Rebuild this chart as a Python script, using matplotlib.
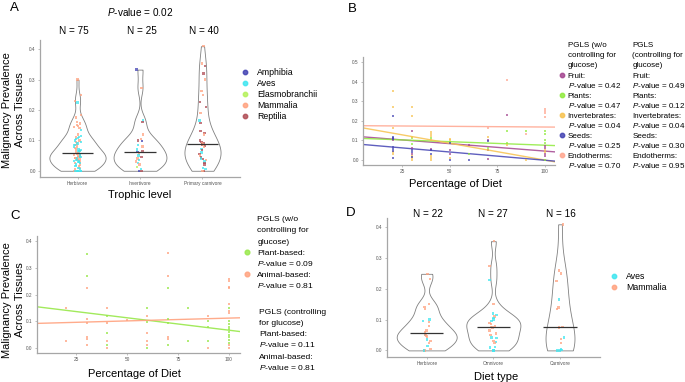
import numpy as np
import matplotlib
matplotlib.use("Agg")
import matplotlib.pyplot as plt
from matplotlib.lines import Line2D

plt.rcParams['font.family'] = ['Liberation Sans', 'DejaVu Sans']
plt.rcParams['mathtext.fontset'] = 'custom'
plt.rcParams['mathtext.rm'] = 'Liberation Sans'
plt.rcParams['mathtext.it'] = 'Liberation Sans:italic'

W, H = 685, 382

# ---------------- DATA ----------------
# Panel A: trophic level violins (value, class)
trophic_levels = ["Herbivore", "Invertivore", "Primary carnivore"]
trophic_n = ["N = 75", "N = 25", "N = 40"]
herb_vals = [0.30, 0.25, 0.23, 0.183, 0.175, 0.16, 0.155, 0.15, 0.148, 0.145, 0.14, 0.12, 0.11, 0.10,
             0.095, 0.09, 0.085, 0.08, 0.075, 0.07, 0.065, 0.062,
             0.225, 0.135, 0.115, 0.112, 0.108, 0.105, 0.10, 0.095, 0.09, 0.085, 0.07, 0.065, 0.06, 0.068, 0.078,
             0.058,
             0.055, 0.052, 0.05, 0.048, 0.045, 0.042, 0.04, 0.038, 0.035, 0.03, 0.025, 0.02, 0.015, 0.01, 0.005,
             0.047, 0.043, 0.0,
             0.055, 0.05, 0.045, 0.04, 0.035, 0.032, 0.03, 0.028, 0.025, 0.02, 0.015, 0.01, 0.005,
             0.0, 0.0, 0.0, 0.0, 0.0, 0.0]
herb_cls = (["Mammalia"] * 22 + ["Aves"] * 15 + ["Mammalia"] + ["Mammalia"] * 18 + ["Aves"] * 19)
inv_vals = [0.333, 0.273, 0.165, 0.16, 0.12, 0.105, 0.10, 0.098, 0.085, 0.08, 0.07, 0.065, 0.061,
            0.055, 0.05, 0.045, 0.04, 0.035, 0.03, 0.025, 0.02, 0.012, 0.005, 0.0, 0.0]
inv_cls = ["Amphibia", "Mammalia", "Aves", "Reptilia", "Mammalia", "Mammalia", "Reptilia", "Amphibia",
           "Aves", "Mammalia", "Aves", "Reptilia", "Amphibia",
           "Mammalia", "Aves", "Reptilia", "Mammalia", "Aves", "Mammalia", "Aves", "Mammalia",
           "Elasmobranchii", "Aves", "Amphibia", "Reptilia"]
carn_vals = [0.41, 0.353, 0.345, 0.32, 0.30, 0.262, 0.25, 0.227, 0.21, 0.19, 0.158, 0.165, 0.131, 0.125,
             0.12, 0.10, 0.095, 0.092, 0.09, 0.087, 0.087,
             0.082, 0.078, 0.072, 0.068, 0.06, 0.055, 0.05, 0.045, 0.042, 0.04, 0.038, 0.035, 0.03,
             0.025, 0.02, 0.01, 0.005, 0.0, 0.0]
carn_cls = ["Mammalia", "Mammalia", "Reptilia", "Reptilia", "Mammalia", "Mammalia", "Mammalia", "Reptilia",
            "Reptilia", "Mammalia", "Reptilia", "Aves", "Reptilia", "Reptilia", "Mammalia", "Reptilia",
            "Reptilia", "Mammalia", "Reptilia", "Reptilia", "Mammalia",
            "Reptilia", "Mammalia", "Aves", "Reptilia", "Aves", "Reptilia", "Mammalia", "Reptilia",
            "Reptilia", "Aves", "Reptilia", "Mammalia", "Aves", "Reptilia", "Reptilia", "Aves", "Aves",
            "Reptilia", "Mammalia"]

class_names = ["Amphibia", "Aves", "Elasmobranchii", "Mammalia", "Reptilia"]
class_colors = {"Amphibia": "#4343B3", "Aves": "#3EE6F0", "Elasmobranchii": "#B5F25A",
                "Mammalia": "#FFA27F", "Reptilia": "#B04C55"}

# Panel B: percentage of diet scatter + PGLS fits
fruit_x = [20, 30, 30, 30, 40, 50, 50, 60, 70, 70, 70, 80, 100, 100, 100, 100]
fruit_y = [0.10, 0.146, 0.06, 0.03, 0.055, 0.05, 0.03, 0.075, 0.10, 0.05, 0.005, 0.228, 0.07, 0.06, 0.03, 0.02]
plants_x = [30, 30, 40, 50, 60, 70, 80, 80, 90, 100, 100, 100, 100, 100]
plants_y = [0.11, 0.08, 0.11, 0.09, 0.03, 0.06, 0.146, 0.085, 0.146, 0.15, 0.135, 0.10, 0.085, 0.0]
invert_x = [20, 20, 20, 20, 20, 30, 30, 30, 30, 30, 30, 40, 40, 40, 40, 40, 40, 40, 50, 50, 50, 70, 70, 80,
            90, 100, 100]
invert_y = [0.35, 0.268, 0.164, 0.04, 0.03, 0.268, 0.225, 0.12, 0.02, 0.01, 0.0, 0.145, 0.135, 0.125, 0.10,
            0.02, 0.01, 0.0, 0.105, 0.10, 0.01, 0.12, 0.05, 0.075, 0.0, 0.05, 0.04]
seeds_x = [20, 20, 20, 20, 20, 20, 20, 20, 30, 30, 30, 40, 40, 50, 50, 60, 70]
seeds_y = [0.223, 0.12, 0.11, 0.105, 0.065, 0.055, 0.045, 0.01, 0.05, 0.04, 0.015, 0.05, 0.03, 0.085, 0.0,
           0.0, 0.095]
endo_x = [70, 80, 90, 100, 100, 100, 100]
endo_y = [0.165, 0.406, 0.135, 0.26, 0.25, 0.24, 0.22]
b_names = ["Fruit", "Plants", "Invertebrates", "Seeds", "Endotherms"]
b_colors = ["#A3448F", "#8FEA3C", "#F7C24E", "#4343B3", "#FFA58E"]
b_intercepts = [0.1218, 0.1118, 0.1716, 0.0832, 0.1754]
b_slopes = [-0.00076, -0.00036, -0.001716, -0.00084, -0.00007]
b_p_nog = ["0.42", "0.47", "0.04", "0.25", "0.70"]
b_p_glu = ["0.49", "0.12", "0.04", "0.30", "0.95"]

# Panel C: plant- vs animal-based
plant_x = [30, 30, 40, 40, 40, 60, 60, 60, 70, 70, 70, 70, 80, 80, 90, 90, 90,
           100, 100, 100, 100, 100, 100, 100, 100, 100, 100]
plant_y = [0.351, 0.27, 0.12, 0.055, 0.01, 0.15, 0.097, 0.0, 0.225, 0.11, 0.095, 0.01, 0.15, 0.025,
           0.10, 0.08, 0.025, 0.15, 0.10, 0.09, 0.08, 0.07, 0.06, 0.05, 0.04, 0.03, 0.02]
animal_x = [20, 20, 30, 30, 30, 30, 30, 30, 40, 40, 40, 40, 50, 60, 60, 60, 60, 70, 70, 70, 70, 90, 90,
            100, 100, 100, 100, 100, 100, 100, 100, 100]
animal_y = [0.149, 0.027, 0.226, 0.11, 0.095, 0.04, 0.035, 0.01, 0.15, 0.095, 0.028, 0.0, 0.105, 0.12,
            0.055, 0.028, 0.01, 0.355, 0.27, 0.04, 0.035, 0.12, 0.0, 0.26, 0.25, 0.23, 0.225, 0.165, 0.14,
            0.13, 0.01, 0.0]
c_colors = ["#98E84A", "#FFA27F"]
c_intercepts = [0.1597, 0.091]
c_slopes = [-0.00093, 0.00021]

# Panel D: diet type violins
diet_types = ["Herbivore", "Omnivore", "Carnivore"]
diet_n = ["N = 22", "N = 27", "N = 16"]
dh_vals = [0.249, 0.232, 0.15, 0.142, 0.135, 0.10, 0.095, 0.092, 0.08, 0.065, 0.058, 0.052,
           0.05, 0.048, 0.045, 0.035, 0.03, 0.025, 0.015, 0.005, 0.0, 0.0]
dh_cls = ["Mammalia", "Mammalia", "Mammalia", "Mammalia", "Mammalia", "Aves", "Aves", "Mammalia",
          "Mammalia", "Mammalia", "Mammalia", "Aves", "Mammalia", "Mammalia", "Mammalia", "Aves",
          "Mammalia", "Mammalia", "Aves", "Mammalia", "Mammalia", "Aves"]
do_vals = [0.355, 0.275, 0.228, 0.15, 0.12, 0.115, 0.11, 0.105, 0.10, 0.095, 0.09, 0.085, 0.08, 0.077,
           0.075, 0.065, 0.055, 0.05, 0.042, 0.04, 0.03, 0.028, 0.025, 0.012, 0.01, 0.0, 0.0]
do_cls = ["Mammalia", "Mammalia", "Aves", "Mammalia", "Aves", "Aves", "Mammalia", "Aves", "Aves", "Aves",
          "Mammalia", "Mammalia", "Mammalia", "Mammalia", "Mammalia", "Mammalia", "Mammalia", "Mammalia",
          "Aves", "Aves", "Mammalia", "Aves", "Mammalia", "Aves", "Aves", "Aves", "Aves"]
dc_vals = [0.41, 0.26, 0.25, 0.225, 0.165, 0.14, 0.135, 0.076, 0.074, 0.042, 0.038, 0.025, 0.005, 0.002,
           0.0, 0.0]
dc_cls = ["Mammalia", "Mammalia", "Mammalia", "Mammalia", "Aves", "Mammalia", "Mammalia", "Mammalia",
          "Mammalia", "Aves", "Mammalia", "Mammalia", "Aves", "Aves", "Aves", "Aves"]

# ---------------- HELPERS ----------------
fig = plt.figure(figsize=(W / 100, H / 100), dpi=100)


def fx(x):
    return x / W


def fy(y):
    return 1 - y / H


def make_ax(x0, y0, x1, y1):
    ax = fig.add_axes([fx(x0), fy(y1), (x1 - x0) / W, (y1 - y0) / H])
    for s in ["top", "right"]:
        ax.spines[s].set_visible(False)
    for s in ["left", "bottom"]:
        ax.spines[s].set_color("#A6A6A6")
        ax.spines[s].set_linewidth(0.9)
    ax.tick_params(colors="#A6A6A6", labelcolor="#555555", labelsize=3.4, length=1.5, width=0.5, pad=1.5)
    ax.set_facecolor("white")
    return ax


def kde(vals, grid):
    v = np.asarray(vals, float)
    n = len(v)
    sd = v.std(ddof=1)
    q75, q25 = np.percentile(v, [75, 25])
    bw = 0.9 * min(sd, (q75 - q25) / 1.34) * n ** -0.2
    z = (grid[:, None] - v[None, :]) / bw
    return np.exp(-0.5 * z ** 2).sum(1) / (n * bw * np.sqrt(2 * np.pi))


def violins(ax, groups, classes, seed):
    grids, dens = [], []
    for g in groups:
        gr = np.linspace(min(g), max(g), 512)
        grids.append(gr)
        dens.append(kde(g, gr))
    m = max(d.max() for d in dens)
    rng = np.random.default_rng(seed)
    for i, (g, gr, d, cl) in enumerate(zip(groups, grids, dens, classes)):
        pos = i + 1
        w = d / m * 0.45
        ax.fill_betweenx(gr, pos - w, pos + w, facecolor="white", edgecolor="#808080", linewidth=0.6, zorder=2)
        jit = rng.uniform(-0.06, 0.06, len(g))
        cols = [class_colors[c] for c in cl]
        ax.scatter(pos + jit, g, c=cols, s=3.0, marker="s", linewidths=0, alpha=0.75, zorder=3)
        ax.hlines(np.median(g), pos - 0.25, pos + 0.25, color="#333333", linewidth=0.9, zorder=4)


def txt(x, y, s, size, ha="center", **kw):
    # y is the visual centre of capital letters; place by baseline for consistency
    base = y + 0.3645 * size * 100 / 72
    fig.text(fx(x), fy(base), s, fontsize=size, ha=ha, va="baseline", **kw)


def vtxt(x, y, s, size):
    fig.text(fx(x), fy(y), s, fontsize=size, ha="center", va="center", rotation=90)


# ---------------- PANEL A ----------------
axA = make_ax(40, 40, 240, 177)
violins(axA, [herb_vals, inv_vals, carn_vals], [herb_cls, inv_cls, carn_cls], 1)
axA.set_xlim(0.4, 3.6)
axA.set_ylim(-0.0205, 0.4305)
axA.set_xticks([1, 2, 3])
axA.set_xticklabels(trophic_levels)
axA.set_yticks([0, 0.1, 0.2, 0.3, 0.4])
axA.set_yticklabels(["0.0", "0.1", "0.2", "0.3", "0.4"])

txt(14, 6.5, "A", 9.5)
txt(140, 12, r"$\it{P}$-value = 0.02", 7.2)
for xx, s in zip([73.5, 142, 204], trophic_n):
    txt(xx, 30, s, 7.2)
vtxt(7, 110, "Malignancy Prevalence", 8)
vtxt(20.5, 110, "Across Tissues", 8)
txt(140, 194, "Trophic level", 8)
for i, name in enumerate(class_names):
    yy = 72 + i * 11
    fig.add_artist(Line2D([fx(245)], [fy(yy)], marker="o", markersize=3.2, color=class_colors[name],
                          linestyle="none", alpha=0.85))
    txt(257, yy, name, 6.3, ha="left")

# ---------------- PANEL B ----------------
axB = make_ax(363, 57, 555, 165)
b_x = [fruit_x, plants_x, invert_x, seeds_x, endo_x]
b_y = [fruit_y, plants_y, invert_y, seeds_y, endo_y]
xlB = (4.5, 105.3)
for xs, ys, col in zip(b_x, b_y, b_colors):
    axB.scatter(xs, ys, c=col, s=2.5, marker="s", linewidths=0, alpha=0.7, zorder=3)
xx = np.array(xlB)
for a, b, col in zip(b_intercepts, b_slopes, b_colors):
    axB.plot(xx, a + b * xx, color=col, linewidth=1.0, alpha=0.85, zorder=2)
axB.set_xlim(*xlB)
axB.set_ylim(-0.025, 0.525)
axB.set_xticks([25, 50, 75, 100])
axB.set_yticks([0, 0.1, 0.2, 0.3, 0.4, 0.5])
axB.set_yticklabels(["0.0", "0.1", "0.2", "0.3", "0.4", "0.5"])
txt(352, 7.5, "B", 9.5)
txt(455, 183, "Percentage of Diet", 8)

fsB = 5.8
head1 = ["PGLS (w/o", "controlling for", "glucose)"]
head2 = ["PGLS", "(controlling for", "glucose)"]
for i in range(3):
    txt(567.7, 44.3 + 10 * i, head1[i], fsB, ha="left")
    txt(632.3, 44.3 + 10 * i, head2[i], fsB, ha="left")
for k, name in enumerate(b_names):
    y1 = 75 + 20 * k
    y2 = y1 + 10
    fig.add_artist(Line2D([fx(562)], [fy(y1)], marker="o", markersize=3.2, color=b_colors[k],
                          linestyle="none", alpha=0.85))
    txt(567.7, y1, name + ":", fsB, ha="left")
    txt(567.7, y2, r"$\it{P}$-value = " + b_p_nog[k], fsB, ha="left")
    txt(632.3, y1, name + ":", fsB, ha="left")
    txt(632.3, y2, r"$\it{P}$-value = " + b_p_glu[k], fsB, ha="left")

# ---------------- PANEL C ----------------
axC = make_ax(36.7, 236, 240, 353.3)
xlC = (5.5, 105.5)
axC.scatter(plant_x, plant_y, c=c_colors[0], s=2.5, marker="s", linewidths=0, alpha=0.75, zorder=3)
axC.scatter(animal_x, animal_y, c=c_colors[1], s=2.5, marker="s", linewidths=0, alpha=0.75, zorder=3)
xx = np.array(xlC)
for a, b, col in zip(c_intercepts, c_slopes, c_colors):
    axC.plot(xx, a + b * xx, color=col, linewidth=1.0, alpha=0.9, zorder=2)
axC.set_xlim(*xlC)
axC.set_ylim(-0.02, 0.42)
axC.set_xticks([25, 50, 75, 100])
axC.set_yticks([0, 0.1, 0.2, 0.3, 0.4])
axC.set_yticklabels(["0.0", "0.1", "0.2", "0.3", "0.4"])
txt(15, 214.5, "C", 9.5)
vtxt(7, 300, "Malignancy Prevalence", 8)
vtxt(20.5, 300, "Across Tissues", 8)
txt(134, 372.5, "Percentage of Diet", 8)

fsC = 6.1
c_lines1 = ["PGLS (w/o", "controlling for", "glucose)", "Plant-based:", r"$\it{P}$-value = 0.09",
            "Animal-based:", r"$\it{P}$-value = 0.81"]
c_y1 = [218.3, 229.3, 240.7, 251.7, 262.7, 274, 285]
for s, yy in zip(c_lines1, c_y1):
    txt(257.3, yy, s, fsC, ha="left")
for yy, col in zip([251.7, 274], c_colors):
    fig.add_artist(Line2D([fx(247.3)], [fy(yy)], marker="o", markersize=3.4, color=col,
                          linestyle="none", alpha=0.85))
c_lines2 = ["PGLS (controlling", "for glucose)", "Plant-based:", r"$\it{P}$-value = 0.11",
            "Animal-based:", r"$\it{P}$-value = 0.81"]
c_y2 = [311, 322.3, 333.3, 344.3, 355.7, 366.5]
for s, yy in zip(c_lines2, c_y2):
    txt(259, yy, s, fsC, ha="left")

# ---------------- PANEL D ----------------
axD = make_ax(386.7, 218, 600, 356.7)
violins(axD, [dh_vals, do_vals, dc_vals], [dh_cls, do_cls, dc_cls], 7)
axD.set_xlim(0.4, 3.6)
axD.set_ylim(-0.0205, 0.4305)
axD.set_xticks([1, 2, 3])
axD.set_xticklabels(diet_types)
axD.set_yticks([0, 0.1, 0.2, 0.3, 0.4])
axD.set_yticklabels(["0.0", "0.1", "0.2", "0.3", "0.4"])
txt(351, 211.5, "D", 9.5)
for xx_, s in zip([428, 493, 561], diet_n):
    txt(xx_, 213, s, 7.2)
txt(496, 375.5, "Diet type", 8)
for yy, name in zip([275.7, 287.3], ["Aves", "Mammalia"]):
    fig.add_artist(Line2D([fx(614)], [fy(yy)], marker="o", markersize=3.2, color=class_colors[name],
                          linestyle="none", alpha=0.85))
    txt(626, yy, name, 6.3, ha="left")

fig.savefig("out.png", dpi=100, facecolor="white")
